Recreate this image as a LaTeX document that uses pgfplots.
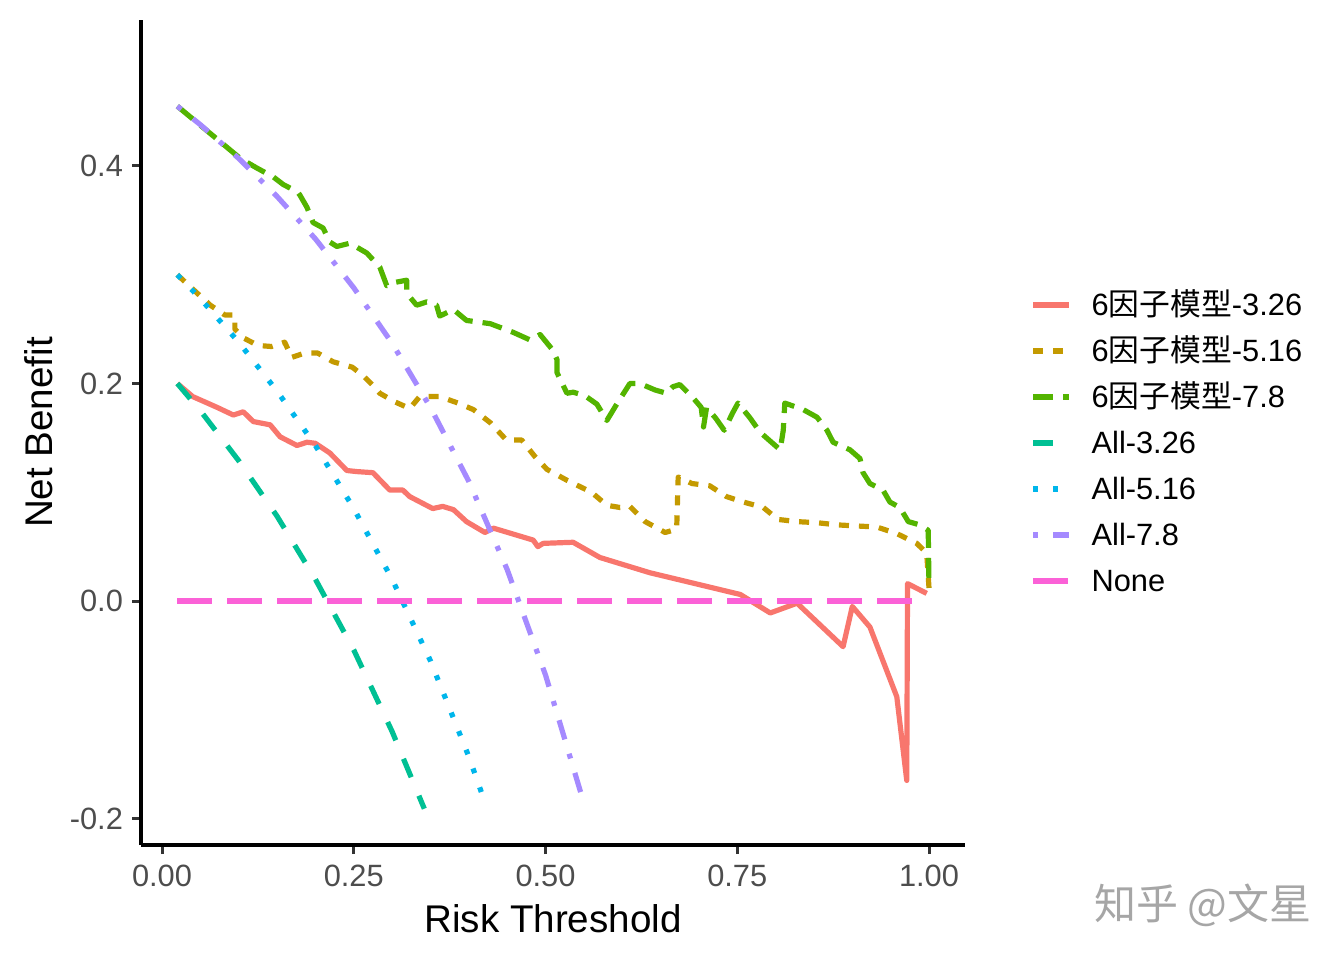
\documentclass[border=0pt]{standalone}
\usepackage{pgfplots}
\pgfplotsset{compat=1.18}
\usepackage{fontspec}
\setmainfont{Liberation Sans}
\newfontfamily\cjk{Noto Sans CJK SC}

\definecolor{cA}{HTML}{F8766D}
\definecolor{cB}{HTML}{C49A00}
\definecolor{cC}{HTML}{53B400}
\definecolor{cD}{HTML}{00C094}
\definecolor{cE}{HTML}{00B6EB}
\definecolor{cF}{HTML}{A58AFF}
\definecolor{cG}{HTML}{FB61D7}
\definecolor{grey30}{HTML}{4D4D4D}
\definecolor{grey20}{HTML}{333333}

\begin{document}
\begin{tikzpicture}
\path[use as bounding box] (0,0) rectangle (672pt,480pt);
\begin{axis}[
    at={(70.5pt,57.5pt)}, anchor=south west,
    scale only axis, width=412pt, height=412.5pt,
    xmin=-0.02738, xmax=1.04694,
    ymin=-0.22437, ymax=0.53425,
    clip=false,
    axis lines=left,
    axis line style={-, line width=1.6pt, black},
    tick align=outside,
    major tick length=4.5pt,
    every tick/.style={line width=1.5pt, grey20},
    xtick={0,0.25,0.5,0.75,1},
    xticklabels={0.00,0.25,0.50,0.75,1.00},
    ytick={-0.2,0,0.2,0.4},
    yticklabels={-0.2,0.0,0.2,0.4},
    ticklabel style={font=\fontsize{15.4}{18}\selectfont, text=grey30},
    xticklabel style={yshift=-2pt},
    yticklabel style={xshift=-1pt},
    xlabel={Risk Threshold},
    ylabel={Net Benefit},
    label style={font=\fontsize{19.3}{23}\selectfont},
    xlabel style={at={(axis description cs:0.5,-0.10545)}, anchor=base},
    ylabel style={at={(axis description cs:-0.108,0.5)}, anchor=base, rotate=0},
    legend image code/.code={\draw[#1] (0pt,0pt) -- (18pt,0pt);},
    legend cell align=left,
    legend style={at={(axis description cs:1.0789,0.4873)}, anchor=west,
        draw=none, fill=none, inner sep=0pt,
        font=\fontsize{15.4}{18}\selectfont,
        row sep=12pt,
        nodes={inner sep=0pt, text height=11pt, text depth=0pt},
        /tikz/every odd column/.append style={column sep=10pt}},
    every axis plot/.append style={line width=2.6pt, line join=round, line cap=butt},
]
\addplot[cA] coordinates {
(0.020,0.200) (0.040,0.188) (0.072,0.178) (0.093,0.171) (0.106,0.174)
(0.119,0.165) (0.141,0.162) (0.154,0.151) (0.176,0.143) (0.189,0.146)
(0.200,0.145) (0.219,0.136) (0.241,0.120) (0.254,0.119) (0.275,0.118)
(0.297,0.102) (0.314,0.102) (0.323,0.096) (0.353,0.085) (0.366,0.087)
(0.380,0.084) (0.397,0.073) (0.421,0.063) (0.432,0.067) (0.484,0.056)
(0.490,0.050) (0.497,0.053) (0.536,0.054) (0.571,0.040) (0.636,0.026)
(0.754,0.006) (0.793,-0.011) (0.828,-0.002) (0.888,-0.042) (0.900,-0.005)
(0.923,-0.024) (0.958,-0.088) (0.971,-0.165) (0.972,0.016) (0.997,0.007)
};
\addplot[cB, dash pattern=on 5pt off 5pt] coordinates {
(0.020,0.300) (0.046,0.283) (0.063,0.272) (0.082,0.263) (0.095,0.263)
(0.095,0.250) (0.106,0.242) (0.125,0.235) (0.143,0.234) (0.160,0.238)
(0.169,0.224) (0.186,0.228) (0.203,0.228) (0.223,0.220) (0.248,0.215)
(0.261,0.208) (0.274,0.199) (0.284,0.191) (0.304,0.183) (0.323,0.177)
(0.336,0.188) (0.362,0.188) (0.386,0.182) (0.406,0.176) (0.428,0.164)
(0.449,0.148) (0.469,0.148) (0.486,0.133) (0.502,0.121) (0.528,0.111)
(0.560,0.100) (0.580,0.088) (0.597,0.086) (0.610,0.087) (0.630,0.073)
(0.656,0.063) (0.671,0.066) (0.673,0.114) (0.691,0.108) (0.714,0.106)
(0.736,0.096) (0.758,0.091) (0.784,0.086) (0.803,0.075) (0.828,0.073)
(0.854,0.072) (0.880,0.070) (0.906,0.069) (0.932,0.068) (0.958,0.062)
(0.984,0.053) (0.997,0.044) (1.000,0.012)
};
\addplot[cC, dash pattern=on 10pt off 5pt] coordinates {
(0.020,0.455) (0.085,0.417) (0.102,0.407) (0.124,0.398) (0.145,0.390)
(0.158,0.383) (0.177,0.376) (0.180,0.373) (0.189,0.362) (0.197,0.348)
(0.210,0.343) (0.219,0.330) (0.228,0.326) (0.245,0.329) (0.267,0.320)
(0.284,0.307) (0.293,0.290) (0.304,0.293) (0.319,0.295) (0.319,0.283)
(0.332,0.272) (0.345,0.275) (0.358,0.272) (0.362,0.262) (0.380,0.268)
(0.397,0.258) (0.428,0.255) (0.458,0.247) (0.480,0.240) (0.493,0.245)
(0.508,0.232) (0.515,0.222) (0.515,0.210) (0.528,0.191) (0.536,0.192)
(0.551,0.189) (0.567,0.181) (0.580,0.166) (0.592,0.180) (0.610,0.200)
(0.623,0.200) (0.643,0.194) (0.658,0.191) (0.666,0.197) (0.675,0.199)
(0.691,0.188) (0.703,0.178) (0.706,0.160) (0.710,0.178) (0.722,0.168)
(0.733,0.157) (0.744,0.173) (0.751,0.182) (0.767,0.168) (0.780,0.155)
(0.806,0.139) (0.810,0.157) (0.812,0.182) (0.836,0.176) (0.854,0.169)
(0.867,0.157) (0.875,0.146) (0.897,0.139) (0.910,0.131) (0.914,0.118)
(0.923,0.108) (0.940,0.102) (0.949,0.091) (0.962,0.086) (0.973,0.073)
(0.988,0.070) (0.999,0.065) (1.000,0.012)
};
\addplot[cD, dash pattern=on 10pt off 10pt] coordinates {
(0.020,0.200) (0.050,0.175) (0.100,0.129) (0.150,0.078) (0.200,0.020)
(0.250,-0.045) (0.300,-0.120) (0.342,-0.191)
};
\addplot[cE, dash pattern=on 2.5pt off 7.5pt] coordinates {
(0.020,0.300) (0.050,0.278) (0.100,0.238) (0.150,0.193) (0.200,0.143)
(0.250,0.085) (0.300,0.020) (0.350,-0.055) (0.400,-0.143) (0.418,-0.179)
};
\addplot[cF, dash pattern=on 2.5pt off 7.5pt on 10pt off 7.5pt] coordinates {
(0.020,0.455) (0.050,0.438) (0.100,0.407) (0.150,0.372) (0.200,0.333)
(0.250,0.288) (0.300,0.237) (0.350,0.178) (0.400,0.110) (0.450,0.029)
(0.500,-0.068) (0.548,-0.181)
};
\addplot[cG, dash pattern=on 17.5pt off 7.5pt] coordinates {
(0.020,0) (0.980,0)
};
\legend{6{\cjk 因子模型}-3.26, 6{\cjk 因子模型}-5.16, 6{\cjk 因子模型}-7.8,
        All-3.26, All-5.16, All-7.8, None}
\end{axis}
\node[text=black!35, font=\cjk\fontsize{21}{21}\selectfont] at (601.5pt,27.5pt) {知乎 @文星};
\end{tikzpicture}
\end{document}
